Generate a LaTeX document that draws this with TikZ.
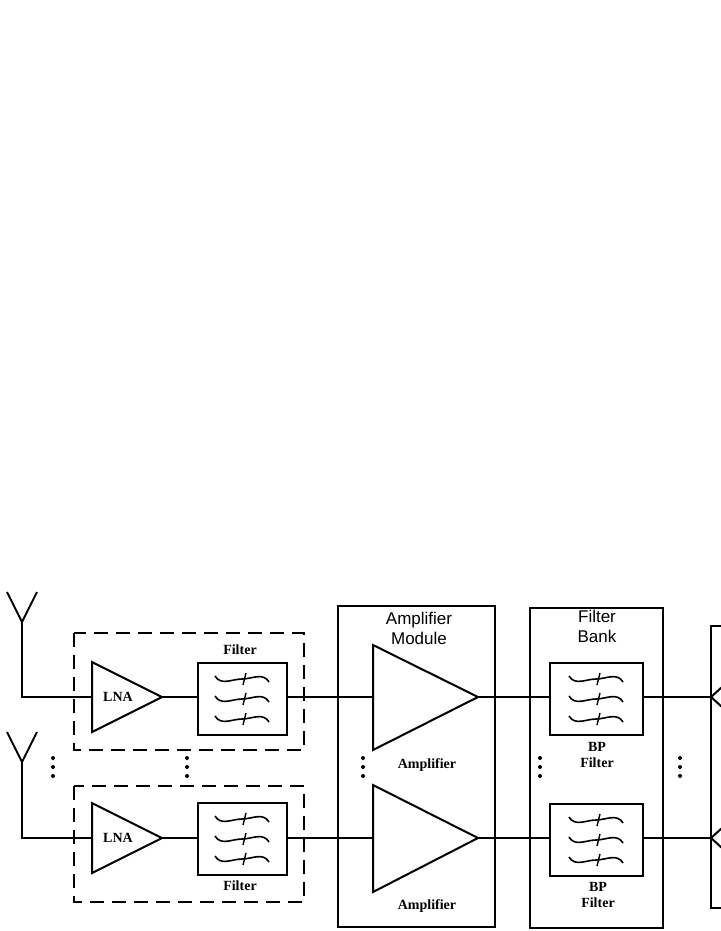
\documentclass[tikz,border=0pt]{standalone}
\usepackage{fontspec}
\setmainfont{Liberation Serif}
\newfontfamily\sansf{Liberation Sans}
\begin{document}
\begin{tikzpicture}[x=1pt,y=-1pt,line width=2pt,
  wire/.style={line width=2pt},
  dbox/.style={line width=2pt,dash pattern=on 14pt off 8pt},
  fbox/.style={draw,line width=2pt,minimum width=89pt,minimum height=72pt,inner sep=0pt},
  blab/.style={font=\fontsize{14}{14}\selectfont\bfseries,inner sep=0pt},
  slab/.style={font=\sansf\fontsize{17}{20}\selectfont,inner sep=0pt,align=center},
  dot/.style={circle,fill=black,inner sep=0pt,minimum size=4pt}]
\useasboundingbox (0,0) rectangle (720,931);
\newcommand\wavesym[1]{%
  \foreach \dy in {-20,0,20}{
    \draw[line width=1.6pt] ([shift={(-27,\dy-3)}]#1) .. controls +(6,10) and +(-10,0) .. ([shift={(0,\dy)}]#1)
      .. controls +(10,0) and +(-6,-10) .. ([shift={(27,\dy+3)}]#1);
    \draw[line width=1.4pt] ([shift={(1,\dy+6)}]#1) -- ([shift={(4,\dy-6)}]#1);
  }}
% antennas
\coordinate (a1) at (22,622); \coordinate (a2) at (22,762);
\draw[wire] (7,592) -- (a1) -- (37,592);
\draw[wire] (7,732) -- (a2) -- (37,732);
\coordinate (c1) at (22,697); \coordinate (c2) at (22,838);
% dashed boxes
\draw[dbox] (74,633) rectangle (304,750);
\draw[dbox] (74,786) rectangle (304,902);
% LNAs
\coordinate (l1in) at (92,697); \coordinate (l1out) at (162,697);
\coordinate (l2in) at (92,838); \coordinate (l2out) at (162,838);
\draw[wire] (92,662) -- (l1out) -- (92,732) -- cycle;
\draw[wire] (92,803) -- (l2out) -- (92,873) -- cycle;
\node[blab] (lna1) at (118,697) {LNA};
\node[blab] (lna2) at (118,838) {LNA};
% filters
\node[fbox] (f1) at (242,699) {};
\node[fbox] (f2) at (242,839) {};
\wavesym{f1.center}\wavesym{f2.center}
\node[blab] (f1l) at (240,650) {Filter};
\node[blab] (f2l) at (240,886) {Filter};
% amplifier module
\draw[wire] (338,606) rectangle (495,927);
\node[slab] (am) at (419,628) {Amplifier\\Module};
\coordinate (m1in) at (373,697); \coordinate (m1out) at (478,697);
\coordinate (m2in) at (373,838); \coordinate (m2out) at (478,838);
\draw[wire] (373,645) -- (m1out) -- (373,750) -- cycle;
\draw[wire] (373,785) -- (m2out) -- (373,892) -- cycle;
\node[blab] (am1) at (427,765) {Amplifier};
\node[blab] (am2) at (427,906) {Amplifier};
% filter bank
\draw[wire] (530,608) rectangle (663,928);
\node[slab] (fb) at (597,626) {Filter\\Bank};
\node[fbox,minimum width=93pt] (b1) at (596,699) {};
\node[fbox,minimum width=93pt] (b2) at (596,840) {};
\wavesym{b1.center}\wavesym{b2.center}
\node[blab,align=center,font=\fontsize{14}{16}\selectfont\bfseries] (b1l) at (597,755) {BP\\Filter};
\node[blab,align=center,font=\fontsize{14}{16}\selectfont\bfseries] (b2l) at (598,895) {BP\\Filter};
% right block
\draw[wire] (722,626) -- (711,626) -- (711,908) -- (722,908);
\coordinate (r1) at (711,697); \coordinate (r2) at (711,838);
\draw[wire] (722,687) -- (r1) -- (722,707);
\draw[wire] (722,828) -- (r2) -- (722,848);
% wires
\draw[wire] (a1) -- (c1) -- (l1in);
\draw[wire] (a2) -- (c2) -- (l2in);
\draw[wire] (l1out) -- (f1.west |- l1out);
\draw[wire] (l2out) -- (f2.west |- l2out);
\draw[wire] (f1.east |- l1out) -- (m1in);
\draw[wire] (f2.east |- l2out) -- (m2in);
\draw[wire] (m1out) -- (b1.west |- m1out);
\draw[wire] (m2out) -- (b2.west |- m2out);
\draw[wire] (b1.east |- m1out) -- (r1);
\draw[wire] (b2.east |- m2out) -- (r2);
% dots
\foreach \x/\n in {53/d1,187/d2,363/d3,540/d4,680/d5}{
  \node[dot] (\n a) at (\x,758) {};
  \node[dot] (\n b) at (\x,767) {};
  \node[dot] (\n c) at (\x,776) {};
}
\end{tikzpicture}
\end{document}
